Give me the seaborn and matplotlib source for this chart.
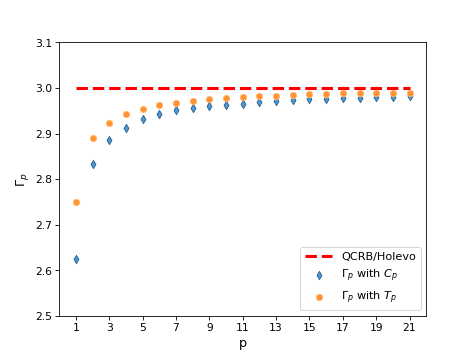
import numpy as np
import pandas as pd
import matplotlib
matplotlib.use('Agg')
import matplotlib.pyplot as plt
import seaborn as sns

# Data
p_values = list(range(1, 22))
gamma_c = [2.625, 2.834, 2.885, 2.913, 2.931, 2.942, 2.951, 2.956, 2.960, 2.963, 2.966,
           2.969, 2.971, 2.973, 2.975, 2.976, 2.978, 2.979, 2.980, 2.981, 2.982]
gamma_t = [2.750, 2.890, 2.923, 2.943, 2.954, 2.962, 2.967, 2.972, 2.975, 2.978, 2.980,
           2.982, 2.983, 2.985, 2.986, 2.987, 2.988, 2.989, 2.989, 2.990, 2.990]
qcrb = [3.0] * len(p_values)
x_ticks = list(range(1, 22, 2))
y_ticks = [2.5, 2.6, 2.7, 2.8, 2.9, 3.0, 3.1]

df = pd.DataFrame({'p': p_values, 'C': gamma_c, 'T': gamma_t, 'Q': qcrb})

fig, ax = plt.subplots(figsize=(6.4, 4.8), dpi=74)

sns.lineplot(data=df, x='p', y='Q', ax=ax, color='red', linestyle='--', linewidth=3,
             label='QCRB/Holevo')
sns.scatterplot(data=df, x='p', y='C', ax=ax, marker='d', s=32, color='#4f9ad2',
                edgecolor='#1f5a8c', linewidth=0.8, label=r'$\Gamma_p$ with $C_p$')
sns.scatterplot(data=df, x='p', y='T', ax=ax, marker='o', s=38, color='#ff9233',
                edgecolor='#ffb870', linewidth=0.8, label=r'$\Gamma_p$ with $T_p$')

ax.set_xlim(0, 22)
ax.set_ylim(2.5, 3.1)
ax.set_xticks(x_ticks)
ax.set_yticks(y_ticks)
ax.tick_params(labelsize=10.5)
ax.set_xlabel('p', fontsize=12.5)
ax.set_ylabel(r'$\Gamma_p$', fontsize=12.5)
ax.legend(loc='lower right', fontsize=11, handlelength=2.4)

fig.savefig('out.png', dpi=74)
